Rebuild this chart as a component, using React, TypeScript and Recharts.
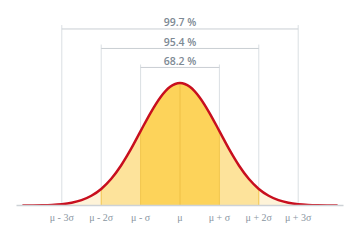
import React from 'react';
import { ComposedChart, Area, Line, XAxis, YAxis, ReferenceLine } from 'recharts';

// standardized positions (in σ units) and curve heights (peak = 100)
const zValues = [-4, -3.75, -3.5, -3.25, -3, -2.75, -2.5, -2.25, -2, -1.75, -1.5, -1.25, -1, -0.75, -0.5, -0.25, 0,
  0.25, 0.5, 0.75, 1, 1.25, 1.5, 1.75, 2, 2.25, 2.5, 2.75, 3, 3.25, 3.5, 3.75, 4];
const density = [0.03, 0.09, 0.22, 0.51, 1.11, 2.28, 4.39, 7.96, 13.5, 21.6, 32.5, 45.8, 60.7, 75.5, 88.2, 96.9, 100,
  96.9, 88.2, 75.5, 60.7, 45.8, 32.5, 21.6, 13.5, 7.96, 4.39, 2.28, 1.11, 0.51, 0.22, 0.09, 0.03];

const tickValues = [-3, -2, -1, 0, 1, 2, 3];
const tickLabels = ['μ - 3σ', 'μ - 2σ', 'μ - σ', 'μ', 'μ + σ', 'μ + 2σ', 'μ + 3σ'];

const bandNames = ['99.7 %', '95.4 %', '68.2 %'];
const bandSigmas = [3, 2, 1];
const bandLineLevels = [144.1, 128.2, 112.7];
const bandTopLevels = [147.3, 131.4, 115.1];

const data = zValues.map((z, i) => ({
  z,
  y: density[i],
  outer: Math.abs(z) <= 3 ? density[i] : null,
  mid: Math.abs(z) <= 2 ? density[i] : null,
  inner: Math.abs(z) <= 1 ? density[i] : null,
}));

const heightAt = (z: number) => density[zValues.indexOf(z)];

const GRAY = '#DADFE3';
const BRACKET = '#C9CED3';
const TEXT = '#7D8994';

export default function App() {
  return (
    <div style={{ position: 'absolute', left: 0, top: 0, background: '#fff' }}>
      <ComposedChart
        width={360}
        height={240}
        data={data}
        margin={{ top: 21.75, right: 16.5, bottom: 14.5, left: 16.5 }}
      >
        <XAxis
          dataKey="z"
          type="number"
          domain={[-4.15, 4.15]}
          ticks={tickValues}
          tickFormatter={(v: number) => tickLabels[tickValues.indexOf(v)]}
          tickLine={false}
          axisLine={{ stroke: '#CDD2D6', strokeWidth: 1.5 }}
          height={20}
          allowDataOverflow
          tick={{ fill: '#8A96A2', fontSize: 10, fontFamily: 'Liberation Serif' }}
        />
        <YAxis type="number" domain={[0, 150]} hide allowDataOverflow />
        <Area dataKey="outer" type="monotone" stroke="none" fill="#FEF3D8" fillOpacity={1} isAnimationActive={false} />
        <Area dataKey="mid" type="monotone" stroke="none" fill="#FDE39B" fillOpacity={1} isAnimationActive={false} />
        <Area dataKey="inner" type="monotone" stroke="none" fill="#FDD35A" fillOpacity={1} isAnimationActive={false} />
        {bandSigmas.map((s, i) => [
          <ReferenceLine key={`gl${i}`} segment={[{ x: -s, y: heightAt(-s) }, { x: -s, y: bandTopLevels[i] }]} stroke={GRAY} strokeWidth={1} ifOverflow="visible" />,
          <ReferenceLine key={`gr${i}`} segment={[{ x: s, y: heightAt(s) }, { x: s, y: bandTopLevels[i] }]} stroke={GRAY} strokeWidth={1} ifOverflow="visible" />,
          <ReferenceLine key={`yl${i}`} segment={[{ x: -s, y: 0 }, { x: -s, y: heightAt(-s) }]} stroke="#F2C64E" strokeWidth={1} ifOverflow="visible" />,
          <ReferenceLine key={`yr${i}`} segment={[{ x: s, y: 0 }, { x: s, y: heightAt(s) }]} stroke="#F2C64E" strokeWidth={1} ifOverflow="visible" />,
          <ReferenceLine
            key={`h${i}`}
            segment={[{ x: -s, y: bandLineLevels[i] }, { x: s, y: bandLineLevels[i] }]}
            stroke={BRACKET}
            strokeWidth={1}
            ifOverflow="visible"
            label={{ value: bandNames[i], position: 'top', offset: 2.5, fill: TEXT, fontSize: 10.5, fontFamily: 'Open Sans', fontWeight: 600 }}
          />,
        ])}
        <ReferenceLine segment={[{ x: 0, y: 0 }, { x: 0, y: 100 }]} stroke="#EFC044" strokeWidth={1} ifOverflow="visible" />
        <Line dataKey="y" type="monotone" stroke="#C80F1E" strokeWidth={2.5} dot={false} activeDot={false} isAnimationActive={false} />
      </ComposedChart>
    </div>
  );
}
